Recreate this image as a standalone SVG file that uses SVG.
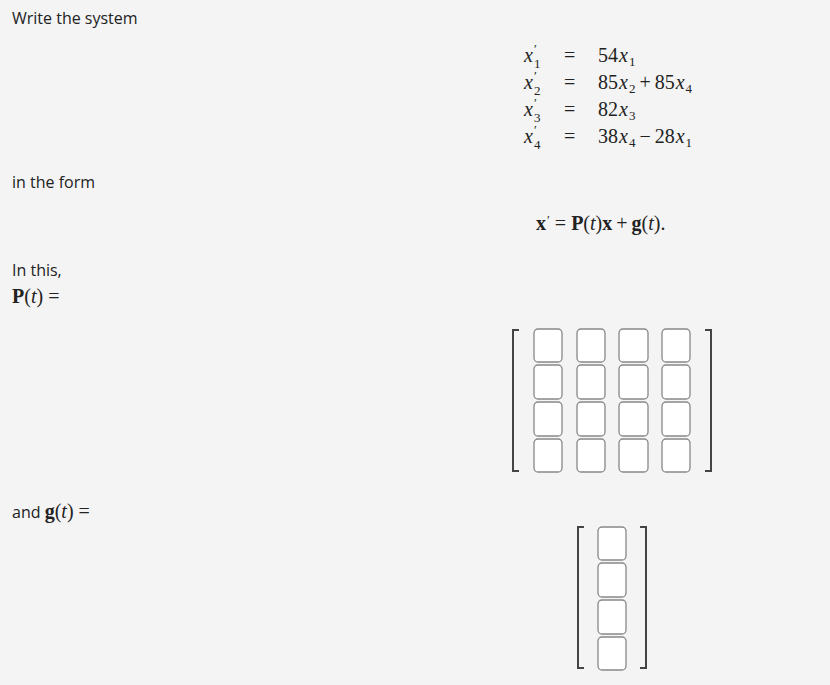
<svg xmlns="http://www.w3.org/2000/svg" width="830" height="685" viewBox="0 0 830 685">
<style>
.t{font-family:"Open Sans","Noto Sans",sans-serif;font-size:16px;fill:#222}
.m{font-family:"Liberation Serif","DejaVu Serif",serif;font-size:20px;fill:#222}
.i{font-style:italic;font-family:"Liberation Serif","DejaVu Serif",serif}
.b{font-weight:bold}
.s{font-size:13px}
.box{fill:#fff;stroke:#888;stroke-width:1.3}
.br{fill:none;stroke:#444;stroke-width:2}
</style>
<rect width="830" height="685" fill="#f4f4f4"/>
<text class="t" x="12" y="24">Write the system</text>
<g class="m">
<text x="524" y="62" class="i">x</text><text x="534" y="53" class="s">′</text><text x="534" y="68" class="s">1</text>
<text x="524" y="89" class="i">x</text><text x="534" y="80" class="s">′</text><text x="534" y="95" class="s">2</text>
<text x="524" y="116" class="i">x</text><text x="534" y="107" class="s">′</text><text x="534" y="122" class="s">3</text>
<text x="524" y="143" class="i">x</text><text x="534" y="134" class="s">′</text><text x="534" y="149" class="s">4</text>
<text x="564" y="62">=</text><text x="564" y="89">=</text><text x="564" y="116">=</text><text x="564" y="143">=</text>
<text x="598" y="62">54<tspan class="i" dx="1">x</tspan><tspan class="s" dx="1" dy="4">1</tspan></text>
<text x="598" y="89">85<tspan class="i" dx="1">x</tspan><tspan class="s" dx="1" dy="4">2</tspan><tspan dx="4" dy="-4">+</tspan><tspan dx="4">85</tspan><tspan class="i" dx="1">x</tspan><tspan class="s" dx="1" dy="4">4</tspan></text>
<text x="598" y="116">82<tspan class="i" dx="1">x</tspan><tspan class="s" dx="1" dy="4">3</tspan></text>
<text x="598" y="143">38<tspan class="i" dx="1">x</tspan><tspan class="s" dx="1" dy="4">4</tspan><tspan dx="4" dy="-4">−</tspan><tspan dx="4">28</tspan><tspan class="i" dx="1">x</tspan><tspan class="s" dx="1" dy="4">1</tspan></text>
<text x="536" y="230"><tspan class="b">x</tspan><tspan class="s" dx="1" dy="-6">′</tspan><tspan dx="5" dy="6">=</tspan><tspan dx="5" class="b">P</tspan>(<tspan class="i">t</tspan>)<tspan class="b">x</tspan><tspan dx="4">+</tspan><tspan dx="4" class="b">g</tspan>(<tspan class="i">t</tspan>).</text>
</g>
<text class="t" x="12" y="188">in the form</text>
<text class="t" x="12" y="276">In this,</text>
<text class="m" x="12" y="303"><tspan class="b">P</tspan>(<tspan class="i">t</tspan>)<tspan dx="5">=</tspan></text>
<text x="12" y="518"><tspan class="t">and </tspan><tspan class="m"><tspan class="b">g</tspan>(<tspan class="i">t</tspan>)<tspan dx="5">=</tspan></tspan></text>
<g id="P">
<path class="br" d="M519 330H513V471H519M705 330H711V471H705"/>
<g id="cells">
<rect class="box" x="534" y="329" width="28" height="33" rx="4"/><rect class="box" x="577" y="329" width="28" height="33" rx="4"/><rect class="box" x="619" y="329" width="29" height="33" rx="4"/><rect class="box" x="662" y="329" width="28" height="33" rx="4"/>
<rect class="box" x="534" y="365" width="28" height="34" rx="4"/><rect class="box" x="577" y="365" width="28" height="34" rx="4"/><rect class="box" x="619" y="365" width="29" height="34" rx="4"/><rect class="box" x="662" y="365" width="28" height="34" rx="4"/>
<rect class="box" x="534" y="402" width="28" height="34" rx="4"/><rect class="box" x="577" y="402" width="28" height="34" rx="4"/><rect class="box" x="619" y="402" width="29" height="34" rx="4"/><rect class="box" x="662" y="402" width="28" height="34" rx="4"/>
<rect class="box" x="534" y="439" width="28" height="33" rx="4"/><rect class="box" x="577" y="439" width="28" height="33" rx="4"/><rect class="box" x="619" y="439" width="29" height="33" rx="4"/><rect class="box" x="662" y="439" width="28" height="33" rx="4"/>
</g>
</g>
<g id="g">
<path class="br" d="M584 527H578V668H584M640 527H646V668H640"/>
<rect class="box" x="598" y="527" width="28" height="33" rx="4"/>
<rect class="box" x="598" y="563" width="28" height="34" rx="4"/>
<rect class="box" x="598" y="600" width="28" height="34" rx="4"/>
<rect class="box" x="598" y="637" width="28" height="33" rx="4"/>
</g>
</svg>
